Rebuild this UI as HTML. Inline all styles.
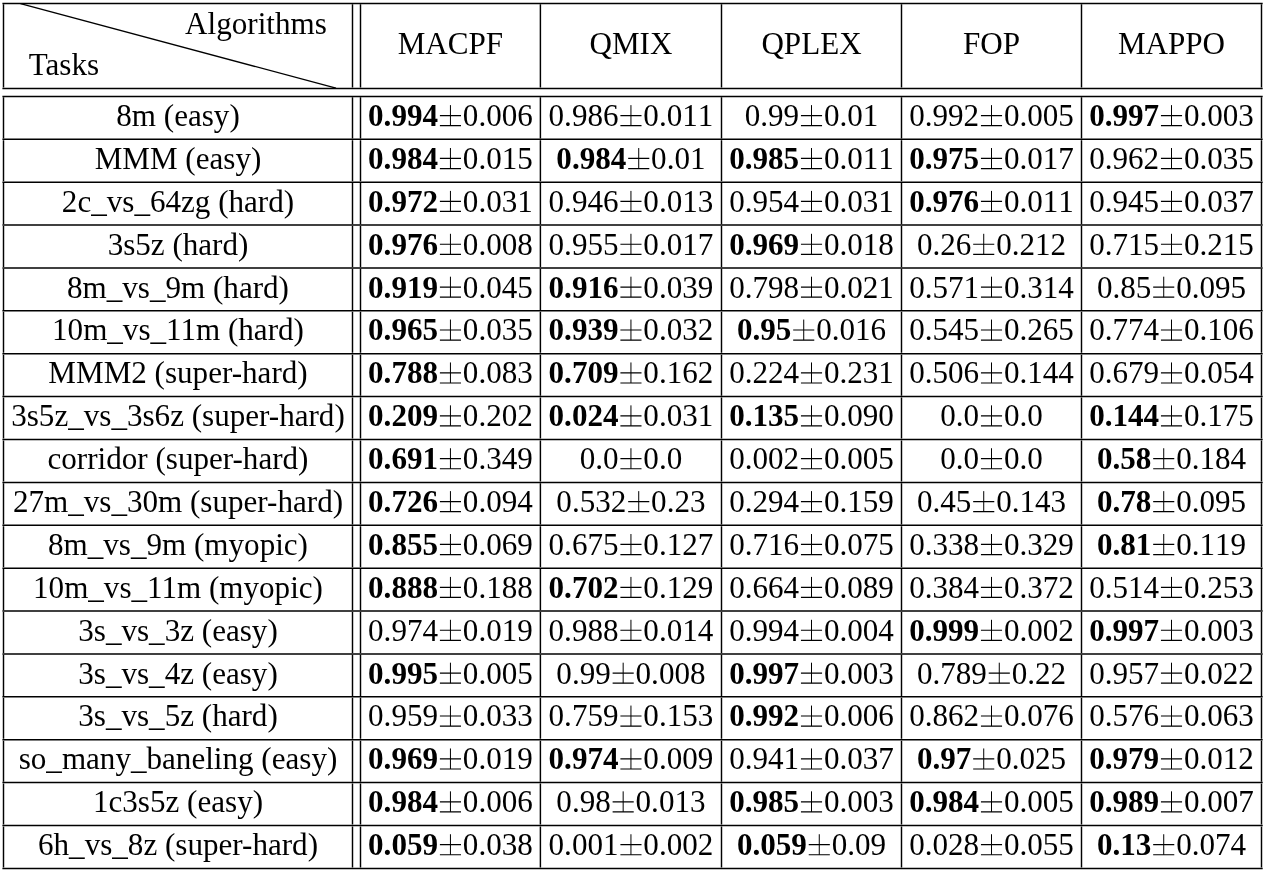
<!DOCTYPE html>
<html><head><meta charset="utf-8"><style>
html,body{margin:0;padding:0;background:#fff;width:1266px;height:873px;overflow:hidden}
svg{position:absolute;left:0;top:0}
.pv{stroke-width:1.0px}
.t{position:absolute;width:340px;text-align:center;font-family:"Liberation Serif",serif;font-size:31.1px;line-height:31.1px;white-space:pre;color:#000;font-kerning:none;font-feature-settings:"kern" 0,"liga" 0}
#tx{position:absolute;left:0;top:0;width:1266px;height:873px;will-change:transform}
.t b{font-weight:bold}
.k{font-kerning:normal;font-feature-settings:"kern" 1,"liga" 0}
.pm{display:inline-block;position:relative;width:24.8px;height:0;vertical-align:baseline}
</style></head><body>
<svg width="1266" height="873" viewBox="0 0 1266 873" stroke="#000" stroke-width="1.5">
<line x1="2.4" y1="3.4" x2="1262.7" y2="3.4"/>
<line x1="2.4" y1="88.4" x2="1262.7" y2="88.4"/>
<line x1="2.4" y1="96.4" x2="1262.7" y2="96.4"/>
<line x1="2.4" y1="139.29" x2="1262.7" y2="139.29"/>
<line x1="2.4" y1="182.18" x2="1262.7" y2="182.18"/>
<line x1="2.4" y1="225.07" x2="1262.7" y2="225.07"/>
<line x1="2.4" y1="267.96" x2="1262.7" y2="267.96"/>
<line x1="2.4" y1="310.84" x2="1262.7" y2="310.84"/>
<line x1="2.4" y1="353.73" x2="1262.7" y2="353.73"/>
<line x1="2.4" y1="396.62" x2="1262.7" y2="396.62"/>
<line x1="2.4" y1="439.51" x2="1262.7" y2="439.51"/>
<line x1="2.4" y1="482.4" x2="1262.7" y2="482.4"/>
<line x1="2.4" y1="525.29" x2="1262.7" y2="525.29"/>
<line x1="2.4" y1="568.18" x2="1262.7" y2="568.18"/>
<line x1="2.4" y1="611.07" x2="1262.7" y2="611.07"/>
<line x1="2.4" y1="653.96" x2="1262.7" y2="653.96"/>
<line x1="2.4" y1="696.84" x2="1262.7" y2="696.84"/>
<line x1="2.4" y1="739.73" x2="1262.7" y2="739.73"/>
<line x1="2.4" y1="782.62" x2="1262.7" y2="782.62"/>
<line x1="2.4" y1="825.51" x2="1262.7" y2="825.51"/>
<line x1="2.4" y1="868.4" x2="1262.7" y2="868.4"/>
<path d="M3.5 4.3V87.5M3.5 97.3V138.39M3.5 140.19V181.28M3.5 183.08V224.17M3.5 225.97V267.06M3.5 268.86V309.94M3.5 311.74V352.83M3.5 354.63V395.72M3.5 397.52V438.61M3.5 440.41V481.5M3.5 483.3V524.39M3.5 526.19V567.28M3.5 569.08V610.17M3.5 611.97V653.06M3.5 654.86V695.94M3.5 697.74V738.83M3.5 740.63V781.72M3.5 783.52V824.61M3.5 826.41V867.5" stroke-width="1.45"/>
<path d="M352.5 4.3V87.5M352.5 97.3V138.39M352.5 140.19V181.28M352.5 183.08V224.17M352.5 225.97V267.06M352.5 268.86V309.94M352.5 311.74V352.83M352.5 354.63V395.72M352.5 397.52V438.61M352.5 440.41V481.5M352.5 483.3V524.39M352.5 526.19V567.28M352.5 569.08V610.17M352.5 611.97V653.06M352.5 654.86V695.94M352.5 697.74V738.83M352.5 740.63V781.72M352.5 783.52V824.61M352.5 826.41V867.5" stroke-width="1.45"/>
<path d="M360.5 4.3V87.5M360.5 97.3V138.39M360.5 140.19V181.28M360.5 183.08V224.17M360.5 225.97V267.06M360.5 268.86V309.94M360.5 311.74V352.83M360.5 354.63V395.72M360.5 397.52V438.61M360.5 440.41V481.5M360.5 483.3V524.39M360.5 526.19V567.28M360.5 569.08V610.17M360.5 611.97V653.06M360.5 654.86V695.94M360.5 697.74V738.83M360.5 740.63V781.72M360.5 783.52V824.61M360.5 826.41V867.5" stroke-width="1.45"/>
<path d="M540.4 4.3V87.5M540.4 97.3V138.39M540.4 140.19V181.28M540.4 183.08V224.17M540.4 225.97V267.06M540.4 268.86V309.94M540.4 311.74V352.83M540.4 354.63V395.72M540.4 397.52V438.61M540.4 440.41V481.5M540.4 483.3V524.39M540.4 526.19V567.28M540.4 569.08V610.17M540.4 611.97V653.06M540.4 654.86V695.94M540.4 697.74V738.83M540.4 740.63V781.72M540.4 783.52V824.61M540.4 826.41V867.5" stroke-width="1.45"/>
<path d="M721.5 4.3V87.5M721.5 97.3V138.39M721.5 140.19V181.28M721.5 183.08V224.17M721.5 225.97V267.06M721.5 268.86V309.94M721.5 311.74V352.83M721.5 354.63V395.72M721.5 397.52V438.61M721.5 440.41V481.5M721.5 483.3V524.39M721.5 526.19V567.28M721.5 569.08V610.17M721.5 611.97V653.06M721.5 654.86V695.94M721.5 697.74V738.83M721.5 740.63V781.72M721.5 783.52V824.61M721.5 826.41V867.5" stroke-width="1.45"/>
<path d="M901.5 4.3V87.5M901.5 97.3V138.39M901.5 140.19V181.28M901.5 183.08V224.17M901.5 225.97V267.06M901.5 268.86V309.94M901.5 311.74V352.83M901.5 354.63V395.72M901.5 397.52V438.61M901.5 440.41V481.5M901.5 483.3V524.39M901.5 526.19V567.28M901.5 569.08V610.17M901.5 611.97V653.06M901.5 654.86V695.94M901.5 697.74V738.83M901.5 740.63V781.72M901.5 783.52V824.61M901.5 826.41V867.5" stroke-width="1.45"/>
<path d="M1081.5 4.3V87.5M1081.5 97.3V138.39M1081.5 140.19V181.28M1081.5 183.08V224.17M1081.5 225.97V267.06M1081.5 268.86V309.94M1081.5 311.74V352.83M1081.5 354.63V395.72M1081.5 397.52V438.61M1081.5 440.41V481.5M1081.5 483.3V524.39M1081.5 526.19V567.28M1081.5 569.08V610.17M1081.5 611.97V653.06M1081.5 654.86V695.94M1081.5 697.74V738.83M1081.5 740.63V781.72M1081.5 783.52V824.61M1081.5 826.41V867.5" stroke-width="1.45"/>
<path d="M1261.5 4.3V87.5M1261.5 97.3V138.39M1261.5 140.19V181.28M1261.5 183.08V224.17M1261.5 225.97V267.06M1261.5 268.86V309.94M1261.5 311.74V352.83M1261.5 354.63V395.72M1261.5 397.52V438.61M1261.5 440.41V481.5M1261.5 483.3V524.39M1261.5 526.19V567.28M1261.5 569.08V610.17M1261.5 611.97V653.06M1261.5 654.86V695.94M1261.5 697.74V738.83M1261.5 740.63V781.72M1261.5 783.52V824.61M1261.5 826.41V867.5" stroke-width="1.45"/>
<line x1="20.5" y1="3.68" x2="336.0" y2="88.11" stroke-width="1.35"/>
<g stroke-width="1.2"><path d="M439.9 115.57H461M439.9 125.65H461"/><path class="pv" d="M450.45 105.13V125.65"/><path d="M620.4 115.57H641.5M620.4 125.65H641.5"/><path class="pv" d="M630.95 105.13V125.65"/><path d="M800.95 115.57H822.05M800.95 125.65H822.05"/><path class="pv" d="M811.5 105.13V125.65"/><path d="M980.95 115.57H1002.05M980.95 125.65H1002.05"/><path class="pv" d="M991.5 105.13V125.65"/><path d="M1160.95 115.57H1182.05M1160.95 125.65H1182.05"/><path class="pv" d="M1171.5 105.13V125.65"/><path d="M439.9 158.46H461M439.9 168.54H461"/><path class="pv" d="M450.45 148.02V168.54"/><path d="M628.18 158.46H649.28M628.18 168.54H649.28"/><path class="pv" d="M638.73 148.02V168.54"/><path d="M800.95 158.46H822.05M800.95 168.54H822.05"/><path class="pv" d="M811.5 148.02V168.54"/><path d="M980.95 158.46H1002.05M980.95 168.54H1002.05"/><path class="pv" d="M991.5 148.02V168.54"/><path d="M1160.95 158.46H1182.05M1160.95 168.54H1182.05"/><path class="pv" d="M1171.5 148.02V168.54"/><path d="M439.9 201.35H461M439.9 211.43H461"/><path class="pv" d="M450.45 190.91V211.43"/><path d="M620.4 201.35H641.5M620.4 211.43H641.5"/><path class="pv" d="M630.95 190.91V211.43"/><path d="M800.95 201.35H822.05M800.95 211.43H822.05"/><path class="pv" d="M811.5 190.91V211.43"/><path d="M980.95 201.35H1002.05M980.95 211.43H1002.05"/><path class="pv" d="M991.5 190.91V211.43"/><path d="M1160.95 201.35H1182.05M1160.95 211.43H1182.05"/><path class="pv" d="M1171.5 190.91V211.43"/><path d="M439.9 244.24H461M439.9 254.32H461"/><path class="pv" d="M450.45 233.8V254.32"/><path d="M620.4 244.24H641.5M620.4 254.32H641.5"/><path class="pv" d="M630.95 233.8V254.32"/><path d="M800.95 244.24H822.05M800.95 254.32H822.05"/><path class="pv" d="M811.5 233.8V254.32"/><path d="M973.17 244.24H994.27M973.17 254.32H994.27"/><path class="pv" d="M983.72 233.8V254.32"/><path d="M1160.95 244.24H1182.05M1160.95 254.32H1182.05"/><path class="pv" d="M1171.5 233.8V254.32"/><path d="M439.9 287.13H461M439.9 297.21H461"/><path class="pv" d="M450.45 276.69V297.21"/><path d="M620.4 287.13H641.5M620.4 297.21H641.5"/><path class="pv" d="M630.95 276.69V297.21"/><path d="M800.95 287.13H822.05M800.95 297.21H822.05"/><path class="pv" d="M811.5 276.69V297.21"/><path d="M980.95 287.13H1002.05M980.95 297.21H1002.05"/><path class="pv" d="M991.5 276.69V297.21"/><path d="M1153.17 287.13H1174.27M1153.17 297.21H1174.27"/><path class="pv" d="M1163.72 276.69V297.21"/><path d="M439.9 330.01H461M439.9 340.09H461"/><path class="pv" d="M450.45 319.57V340.09"/><path d="M620.4 330.01H641.5M620.4 340.09H641.5"/><path class="pv" d="M630.95 319.57V340.09"/><path d="M793.17 330.01H814.27M793.17 340.09H814.27"/><path class="pv" d="M803.72 319.57V340.09"/><path d="M980.95 330.01H1002.05M980.95 340.09H1002.05"/><path class="pv" d="M991.5 319.57V340.09"/><path d="M1160.95 330.01H1182.05M1160.95 340.09H1182.05"/><path class="pv" d="M1171.5 319.57V340.09"/><path d="M439.9 372.9H461M439.9 382.98H461"/><path class="pv" d="M450.45 362.46V382.98"/><path d="M620.4 372.9H641.5M620.4 382.98H641.5"/><path class="pv" d="M630.95 362.46V382.98"/><path d="M800.95 372.9H822.05M800.95 382.98H822.05"/><path class="pv" d="M811.5 362.46V382.98"/><path d="M980.95 372.9H1002.05M980.95 382.98H1002.05"/><path class="pv" d="M991.5 362.46V382.98"/><path d="M1160.95 372.9H1182.05M1160.95 382.98H1182.05"/><path class="pv" d="M1171.5 362.46V382.98"/><path d="M439.9 415.79H461M439.9 425.87H461"/><path class="pv" d="M450.45 405.35V425.87"/><path d="M620.4 415.79H641.5M620.4 425.87H641.5"/><path class="pv" d="M630.95 405.35V425.87"/><path d="M800.95 415.79H822.05M800.95 425.87H822.05"/><path class="pv" d="M811.5 405.35V425.87"/><path d="M980.95 415.79H1002.05M980.95 425.87H1002.05"/><path class="pv" d="M991.5 405.35V425.87"/><path d="M1160.95 415.79H1182.05M1160.95 425.87H1182.05"/><path class="pv" d="M1171.5 405.35V425.87"/><path d="M439.9 458.68H461M439.9 468.76H461"/><path class="pv" d="M450.45 448.24V468.76"/><path d="M620.4 458.68H641.5M620.4 468.76H641.5"/><path class="pv" d="M630.95 448.24V468.76"/><path d="M800.95 458.68H822.05M800.95 468.76H822.05"/><path class="pv" d="M811.5 448.24V468.76"/><path d="M980.95 458.68H1002.05M980.95 468.76H1002.05"/><path class="pv" d="M991.5 448.24V468.76"/><path d="M1153.17 458.68H1174.27M1153.17 468.76H1174.27"/><path class="pv" d="M1163.72 448.24V468.76"/><path d="M439.9 501.57H461M439.9 511.65H461"/><path class="pv" d="M450.45 491.13V511.65"/><path d="M628.18 501.57H649.28M628.18 511.65H649.28"/><path class="pv" d="M638.73 491.13V511.65"/><path d="M800.95 501.57H822.05M800.95 511.65H822.05"/><path class="pv" d="M811.5 491.13V511.65"/><path d="M973.17 501.57H994.27M973.17 511.65H994.27"/><path class="pv" d="M983.72 491.13V511.65"/><path d="M1153.17 501.57H1174.27M1153.17 511.65H1174.27"/><path class="pv" d="M1163.72 491.13V511.65"/><path d="M439.9 544.46H461M439.9 554.54H461"/><path class="pv" d="M450.45 534.02V554.54"/><path d="M620.4 544.46H641.5M620.4 554.54H641.5"/><path class="pv" d="M630.95 534.02V554.54"/><path d="M800.95 544.46H822.05M800.95 554.54H822.05"/><path class="pv" d="M811.5 534.02V554.54"/><path d="M980.95 544.46H1002.05M980.95 554.54H1002.05"/><path class="pv" d="M991.5 534.02V554.54"/><path d="M1153.17 544.46H1174.27M1153.17 554.54H1174.27"/><path class="pv" d="M1163.72 534.02V554.54"/><path d="M439.9 587.35H461M439.9 597.43H461"/><path class="pv" d="M450.45 576.91V597.43"/><path d="M620.4 587.35H641.5M620.4 597.43H641.5"/><path class="pv" d="M630.95 576.91V597.43"/><path d="M800.95 587.35H822.05M800.95 597.43H822.05"/><path class="pv" d="M811.5 576.91V597.43"/><path d="M980.95 587.35H1002.05M980.95 597.43H1002.05"/><path class="pv" d="M991.5 576.91V597.43"/><path d="M1160.95 587.35H1182.05M1160.95 597.43H1182.05"/><path class="pv" d="M1171.5 576.91V597.43"/><path d="M439.9 630.24H461M439.9 640.32H461"/><path class="pv" d="M450.45 619.8V640.32"/><path d="M620.4 630.24H641.5M620.4 640.32H641.5"/><path class="pv" d="M630.95 619.8V640.32"/><path d="M800.95 630.24H822.05M800.95 640.32H822.05"/><path class="pv" d="M811.5 619.8V640.32"/><path d="M980.95 630.24H1002.05M980.95 640.32H1002.05"/><path class="pv" d="M991.5 619.8V640.32"/><path d="M1160.95 630.24H1182.05M1160.95 640.32H1182.05"/><path class="pv" d="M1171.5 619.8V640.32"/><path d="M439.9 673.13H461M439.9 683.21H461"/><path class="pv" d="M450.45 662.69V683.21"/><path d="M612.62 673.13H633.73M612.62 683.21H633.73"/><path class="pv" d="M623.17 662.69V683.21"/><path d="M800.95 673.13H822.05M800.95 683.21H822.05"/><path class="pv" d="M811.5 662.69V683.21"/><path d="M988.73 673.13H1009.83M988.73 683.21H1009.83"/><path class="pv" d="M999.28 662.69V683.21"/><path d="M1160.95 673.13H1182.05M1160.95 683.21H1182.05"/><path class="pv" d="M1171.5 662.69V683.21"/><path d="M439.9 716.01H461M439.9 726.09H461"/><path class="pv" d="M450.45 705.57V726.09"/><path d="M620.4 716.01H641.5M620.4 726.09H641.5"/><path class="pv" d="M630.95 705.57V726.09"/><path d="M800.95 716.01H822.05M800.95 726.09H822.05"/><path class="pv" d="M811.5 705.57V726.09"/><path d="M980.95 716.01H1002.05M980.95 726.09H1002.05"/><path class="pv" d="M991.5 705.57V726.09"/><path d="M1160.95 716.01H1182.05M1160.95 726.09H1182.05"/><path class="pv" d="M1171.5 705.57V726.09"/><path d="M439.9 758.9H461M439.9 768.98H461"/><path class="pv" d="M450.45 748.46V768.98"/><path d="M620.4 758.9H641.5M620.4 768.98H641.5"/><path class="pv" d="M630.95 748.46V768.98"/><path d="M800.95 758.9H822.05M800.95 768.98H822.05"/><path class="pv" d="M811.5 748.46V768.98"/><path d="M973.17 758.9H994.27M973.17 768.98H994.27"/><path class="pv" d="M983.72 748.46V768.98"/><path d="M1160.95 758.9H1182.05M1160.95 768.98H1182.05"/><path class="pv" d="M1171.5 748.46V768.98"/><path d="M439.9 801.79H461M439.9 811.87H461"/><path class="pv" d="M450.45 791.35V811.87"/><path d="M612.62 801.79H633.73M612.62 811.87H633.73"/><path class="pv" d="M623.17 791.35V811.87"/><path d="M800.95 801.79H822.05M800.95 811.87H822.05"/><path class="pv" d="M811.5 791.35V811.87"/><path d="M980.95 801.79H1002.05M980.95 811.87H1002.05"/><path class="pv" d="M991.5 791.35V811.87"/><path d="M1160.95 801.79H1182.05M1160.95 811.87H1182.05"/><path class="pv" d="M1171.5 791.35V811.87"/><path d="M439.9 844.68H461M439.9 854.76H461"/><path class="pv" d="M450.45 834.24V854.76"/><path d="M620.4 844.68H641.5M620.4 854.76H641.5"/><path class="pv" d="M630.95 834.24V854.76"/><path d="M808.73 844.68H829.83M808.73 854.76H829.83"/><path class="pv" d="M819.28 834.24V854.76"/><path d="M980.95 844.68H1002.05M980.95 854.76H1002.05"/><path class="pv" d="M991.5 834.24V854.76"/><path d="M1153.17 844.68H1174.27M1153.17 854.76H1174.27"/><path class="pv" d="M1163.72 834.24V854.76"/></g>
</svg>
<div id="tx">
<div class="t k" style="left:8px;top:100.05px">8m (easy)</div>
<div class="t" style="left:280.45px;top:100.05px"><b>0.994</b><span class="pm"></span>0.006</div>
<div class="t" style="left:460.95px;top:100.05px">0.986<span class="pm"></span>0.011</div>
<div class="t" style="left:641.5px;top:100.05px">0.99<span class="pm"></span>0.01</div>
<div class="t" style="left:821.5px;top:100.05px">0.992<span class="pm"></span>0.005</div>
<div class="t" style="left:1001.5px;top:100.05px"><b>0.997</b><span class="pm"></span>0.003</div>
<div class="t k" style="left:8px;top:142.94px">MMM (easy)</div>
<div class="t" style="left:280.45px;top:142.94px"><b>0.984</b><span class="pm"></span>0.015</div>
<div class="t" style="left:460.95px;top:142.94px"><b>0.984</b><span class="pm"></span>0.01</div>
<div class="t" style="left:641.5px;top:142.94px"><b>0.985</b><span class="pm"></span>0.011</div>
<div class="t" style="left:821.5px;top:142.94px"><b>0.975</b><span class="pm"></span>0.017</div>
<div class="t" style="left:1001.5px;top:142.94px">0.962<span class="pm"></span>0.035</div>
<div class="t k" style="left:8px;top:185.83px">2c_vs_64zg (hard)</div>
<div class="t" style="left:280.45px;top:185.83px"><b>0.972</b><span class="pm"></span>0.031</div>
<div class="t" style="left:460.95px;top:185.83px">0.946<span class="pm"></span>0.013</div>
<div class="t" style="left:641.5px;top:185.83px">0.954<span class="pm"></span>0.031</div>
<div class="t" style="left:821.5px;top:185.83px"><b>0.976</b><span class="pm"></span>0.011</div>
<div class="t" style="left:1001.5px;top:185.83px">0.945<span class="pm"></span>0.037</div>
<div class="t k" style="left:8px;top:228.72px">3s5z (hard)</div>
<div class="t" style="left:280.45px;top:228.72px"><b>0.976</b><span class="pm"></span>0.008</div>
<div class="t" style="left:460.95px;top:228.72px">0.955<span class="pm"></span>0.017</div>
<div class="t" style="left:641.5px;top:228.72px"><b>0.969</b><span class="pm"></span>0.018</div>
<div class="t" style="left:821.5px;top:228.72px">0.26<span class="pm"></span>0.212</div>
<div class="t" style="left:1001.5px;top:228.72px">0.715<span class="pm"></span>0.215</div>
<div class="t k" style="left:8px;top:271.61px">8m_vs_9m (hard)</div>
<div class="t" style="left:280.45px;top:271.61px"><b>0.919</b><span class="pm"></span>0.045</div>
<div class="t" style="left:460.95px;top:271.61px"><b>0.916</b><span class="pm"></span>0.039</div>
<div class="t" style="left:641.5px;top:271.61px">0.798<span class="pm"></span>0.021</div>
<div class="t" style="left:821.5px;top:271.61px">0.571<span class="pm"></span>0.314</div>
<div class="t" style="left:1001.5px;top:271.61px">0.85<span class="pm"></span>0.095</div>
<div class="t k" style="left:8px;top:314.49px">10m_vs_11m (hard)</div>
<div class="t" style="left:280.45px;top:314.49px"><b>0.965</b><span class="pm"></span>0.035</div>
<div class="t" style="left:460.95px;top:314.49px"><b>0.939</b><span class="pm"></span>0.032</div>
<div class="t" style="left:641.5px;top:314.49px"><b>0.95</b><span class="pm"></span>0.016</div>
<div class="t" style="left:821.5px;top:314.49px">0.545<span class="pm"></span>0.265</div>
<div class="t" style="left:1001.5px;top:314.49px">0.774<span class="pm"></span>0.106</div>
<div class="t k" style="left:8px;top:357.38px">MMM2 (super-hard)</div>
<div class="t" style="left:280.45px;top:357.38px"><b>0.788</b><span class="pm"></span>0.083</div>
<div class="t" style="left:460.95px;top:357.38px"><b>0.709</b><span class="pm"></span>0.162</div>
<div class="t" style="left:641.5px;top:357.38px">0.224<span class="pm"></span>0.231</div>
<div class="t" style="left:821.5px;top:357.38px">0.506<span class="pm"></span>0.144</div>
<div class="t" style="left:1001.5px;top:357.38px">0.679<span class="pm"></span>0.054</div>
<div class="t k" style="left:8px;top:400.27px">3s5z_vs_3s6z (super-hard)</div>
<div class="t" style="left:280.45px;top:400.27px"><b>0.209</b><span class="pm"></span>0.202</div>
<div class="t" style="left:460.95px;top:400.27px"><b>0.024</b><span class="pm"></span>0.031</div>
<div class="t" style="left:641.5px;top:400.27px"><b>0.135</b><span class="pm"></span>0.090</div>
<div class="t" style="left:821.5px;top:400.27px">0.0<span class="pm"></span>0.0</div>
<div class="t" style="left:1001.5px;top:400.27px"><b>0.144</b><span class="pm"></span>0.175</div>
<div class="t k" style="left:8px;top:443.16px">corridor (super-hard)</div>
<div class="t" style="left:280.45px;top:443.16px"><b>0.691</b><span class="pm"></span>0.349</div>
<div class="t" style="left:460.95px;top:443.16px">0.0<span class="pm"></span>0.0</div>
<div class="t" style="left:641.5px;top:443.16px">0.002<span class="pm"></span>0.005</div>
<div class="t" style="left:821.5px;top:443.16px">0.0<span class="pm"></span>0.0</div>
<div class="t" style="left:1001.5px;top:443.16px"><b>0.58</b><span class="pm"></span>0.184</div>
<div class="t k" style="left:8px;top:486.05px">27m_vs_30m (super-hard)</div>
<div class="t" style="left:280.45px;top:486.05px"><b>0.726</b><span class="pm"></span>0.094</div>
<div class="t" style="left:460.95px;top:486.05px">0.532<span class="pm"></span>0.23</div>
<div class="t" style="left:641.5px;top:486.05px">0.294<span class="pm"></span>0.159</div>
<div class="t" style="left:821.5px;top:486.05px">0.45<span class="pm"></span>0.143</div>
<div class="t" style="left:1001.5px;top:486.05px"><b>0.78</b><span class="pm"></span>0.095</div>
<div class="t k" style="left:8px;top:528.94px">8m_vs_9m (myopic)</div>
<div class="t" style="left:280.45px;top:528.94px"><b>0.855</b><span class="pm"></span>0.069</div>
<div class="t" style="left:460.95px;top:528.94px">0.675<span class="pm"></span>0.127</div>
<div class="t" style="left:641.5px;top:528.94px">0.716<span class="pm"></span>0.075</div>
<div class="t" style="left:821.5px;top:528.94px">0.338<span class="pm"></span>0.329</div>
<div class="t" style="left:1001.5px;top:528.94px"><b>0.81</b><span class="pm"></span>0.119</div>
<div class="t k" style="left:8px;top:571.83px">10m_vs_11m (myopic)</div>
<div class="t" style="left:280.45px;top:571.83px"><b>0.888</b><span class="pm"></span>0.188</div>
<div class="t" style="left:460.95px;top:571.83px"><b>0.702</b><span class="pm"></span>0.129</div>
<div class="t" style="left:641.5px;top:571.83px">0.664<span class="pm"></span>0.089</div>
<div class="t" style="left:821.5px;top:571.83px">0.384<span class="pm"></span>0.372</div>
<div class="t" style="left:1001.5px;top:571.83px">0.514<span class="pm"></span>0.253</div>
<div class="t k" style="left:8px;top:614.72px">3s_vs_3z (easy)</div>
<div class="t" style="left:280.45px;top:614.72px">0.974<span class="pm"></span>0.019</div>
<div class="t" style="left:460.95px;top:614.72px">0.988<span class="pm"></span>0.014</div>
<div class="t" style="left:641.5px;top:614.72px">0.994<span class="pm"></span>0.004</div>
<div class="t" style="left:821.5px;top:614.72px"><b>0.999</b><span class="pm"></span>0.002</div>
<div class="t" style="left:1001.5px;top:614.72px"><b>0.997</b><span class="pm"></span>0.003</div>
<div class="t k" style="left:8px;top:657.61px">3s_vs_4z (easy)</div>
<div class="t" style="left:280.45px;top:657.61px"><b>0.995</b><span class="pm"></span>0.005</div>
<div class="t" style="left:460.95px;top:657.61px">0.99<span class="pm"></span>0.008</div>
<div class="t" style="left:641.5px;top:657.61px"><b>0.997</b><span class="pm"></span>0.003</div>
<div class="t" style="left:821.5px;top:657.61px">0.789<span class="pm"></span>0.22</div>
<div class="t" style="left:1001.5px;top:657.61px">0.957<span class="pm"></span>0.022</div>
<div class="t k" style="left:8px;top:700.49px">3s_vs_5z (hard)</div>
<div class="t" style="left:280.45px;top:700.49px">0.959<span class="pm"></span>0.033</div>
<div class="t" style="left:460.95px;top:700.49px">0.759<span class="pm"></span>0.153</div>
<div class="t" style="left:641.5px;top:700.49px"><b>0.992</b><span class="pm"></span>0.006</div>
<div class="t" style="left:821.5px;top:700.49px">0.862<span class="pm"></span>0.076</div>
<div class="t" style="left:1001.5px;top:700.49px">0.576<span class="pm"></span>0.063</div>
<div class="t k" style="left:8px;top:743.38px">so_many_baneling (easy)</div>
<div class="t" style="left:280.45px;top:743.38px"><b>0.969</b><span class="pm"></span>0.019</div>
<div class="t" style="left:460.95px;top:743.38px"><b>0.974</b><span class="pm"></span>0.009</div>
<div class="t" style="left:641.5px;top:743.38px">0.941<span class="pm"></span>0.037</div>
<div class="t" style="left:821.5px;top:743.38px"><b>0.97</b><span class="pm"></span>0.025</div>
<div class="t" style="left:1001.5px;top:743.38px"><b>0.979</b><span class="pm"></span>0.012</div>
<div class="t k" style="left:8px;top:786.27px">1c3s5z (easy)</div>
<div class="t" style="left:280.45px;top:786.27px"><b>0.984</b><span class="pm"></span>0.006</div>
<div class="t" style="left:460.95px;top:786.27px">0.98<span class="pm"></span>0.013</div>
<div class="t" style="left:641.5px;top:786.27px"><b>0.985</b><span class="pm"></span>0.003</div>
<div class="t" style="left:821.5px;top:786.27px"><b>0.984</b><span class="pm"></span>0.005</div>
<div class="t" style="left:1001.5px;top:786.27px"><b>0.989</b><span class="pm"></span>0.007</div>
<div class="t k" style="left:8px;top:829.16px">6h_vs_8z (super-hard)</div>
<div class="t" style="left:280.45px;top:829.16px"><b>0.059</b><span class="pm"></span>0.038</div>
<div class="t" style="left:460.95px;top:829.16px">0.001<span class="pm"></span>0.002</div>
<div class="t" style="left:641.5px;top:829.16px"><b>0.059</b><span class="pm"></span>0.09</div>
<div class="t" style="left:821.5px;top:829.16px">0.028<span class="pm"></span>0.055</div>
<div class="t" style="left:1001.5px;top:829.16px"><b>0.13</b><span class="pm"></span>0.074</div>
<div class="t k" style="left:280.45px;top:27.65px">MACPF</div>
<div class="t k" style="left:460.95px;top:27.65px">QMIX</div>
<div class="t k" style="left:641.5px;top:27.65px">QPLEX</div>
<div class="t k" style="left:821.5px;top:27.65px">FOP</div>
<div class="t k" style="left:1001.5px;top:27.65px">MAPPO</div>
<div class="t k" style="width:auto;text-align:left;top:49.1px;left:28.74px">Tasks</div>
<div class="t k" style="width:auto;text-align:left;top:7.55px;left:185.1px">Algorithms</div>
</div>
</body></html>
